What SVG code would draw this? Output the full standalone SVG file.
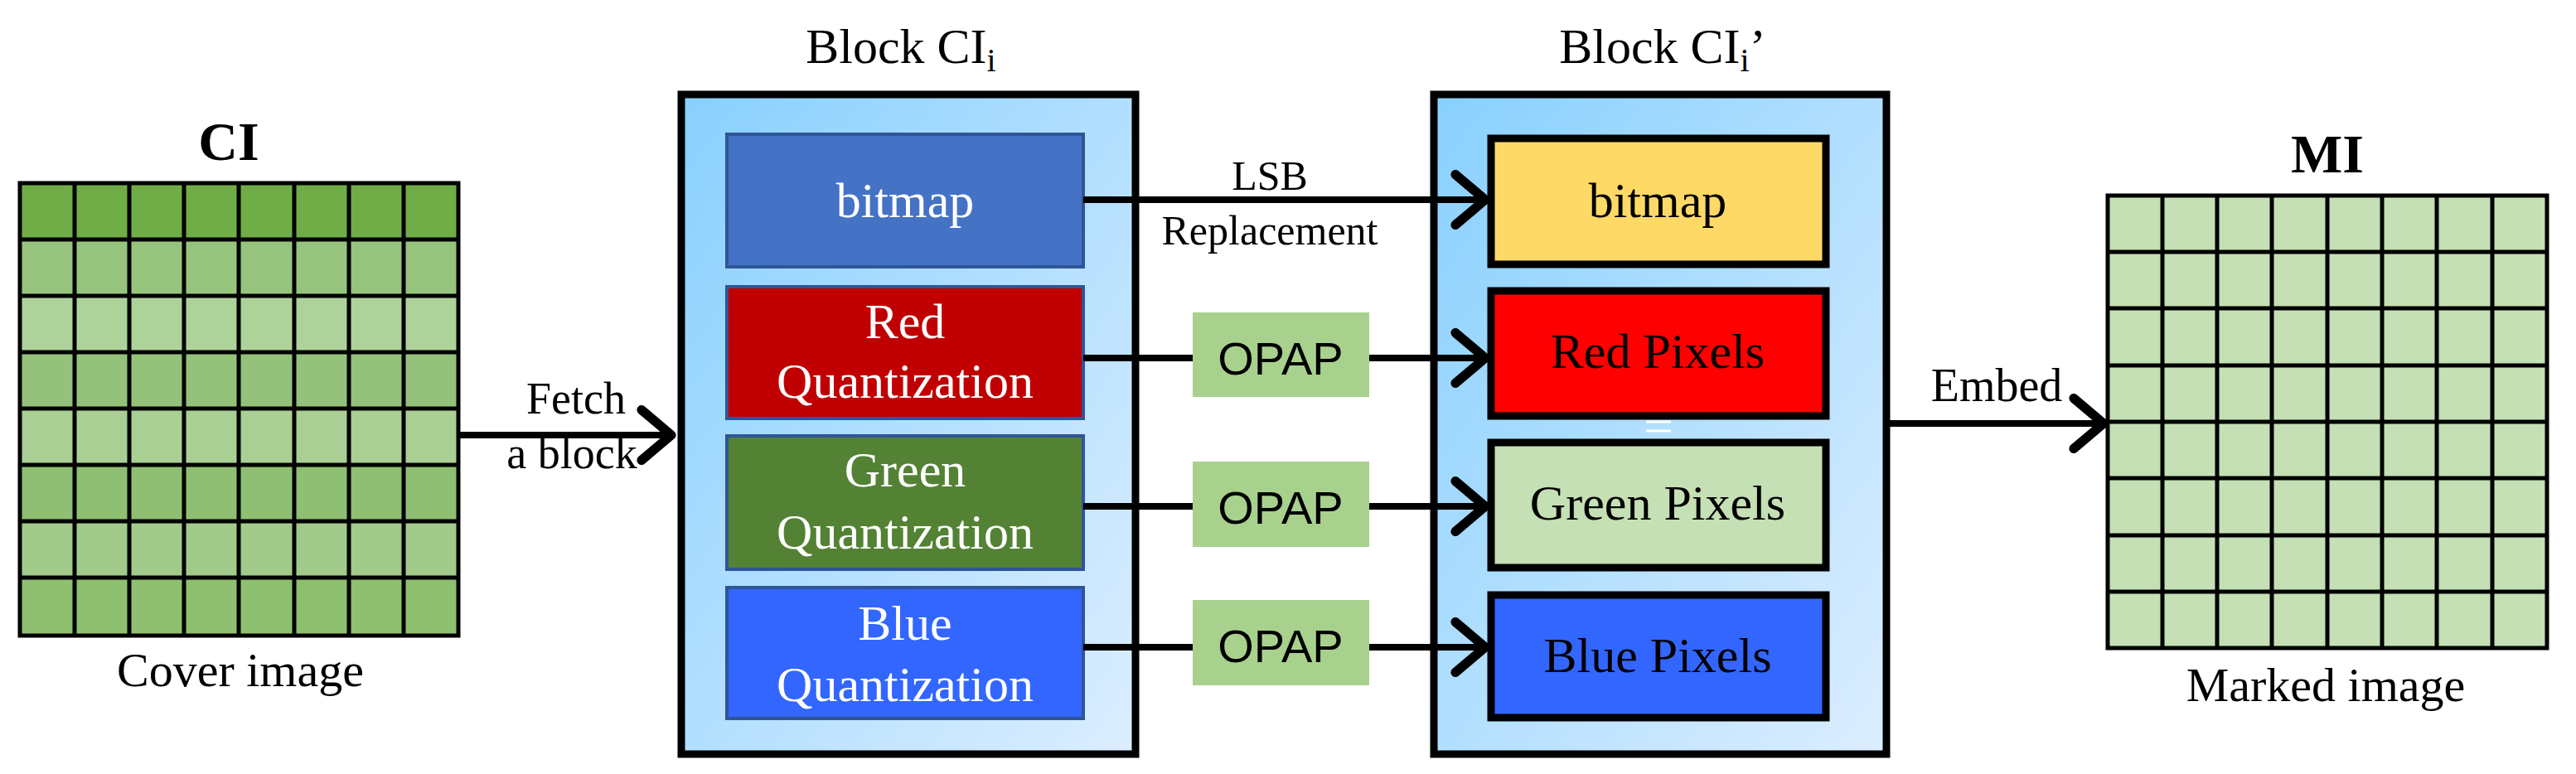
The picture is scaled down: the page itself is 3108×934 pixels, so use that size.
<svg xmlns="http://www.w3.org/2000/svg" width="3108" height="934" viewBox="0 0 3108 934">
<style>
.t{font-family:"Liberation Serif","Times New Roman",serif;text-anchor:middle}
.s{font-family:"Liberation Sans",Arial,sans-serif;text-anchor:middle}
.grid{stroke:#000;stroke-width:5;fill:none}
.blk{stroke:#000;stroke-width:9;fill:url(#bg)}
.lb{stroke:#2F5597;stroke-width:4}
.rb{stroke:#000;stroke-width:9}
.op{fill:#A9D18E}
.con{stroke:#000;stroke-width:8;fill:none}
</style>
<defs>
<linearGradient id="bg" x1="0" y1="0" x2="1" y2="1">
<stop offset="0" stop-color="#88D0FE"/><stop offset="1" stop-color="#DCEEFF"/>
</linearGradient>
<marker id="ah" markerWidth="8" markerHeight="10" refX="6" refY="5" orient="auto" markerUnits="strokeWidth">
<path d="M1.5,1.2 L6,5 L1.5,8.8" fill="none" stroke="#000" stroke-width="1.4" stroke-linecap="round" stroke-linejoin="round"/>
</marker>
</defs>
<rect width="3108" height="934" fill="#fff"/>

<g id="CI">
<text class="t" x="276" y="193" font-size="66" font-weight="bold">CI</text>
<rect x="24" y="221" width="529" height="68" fill="#70AD47"/>
<rect x="24" y="289" width="529" height="68" fill="#97C47D"/>
<rect x="24" y="357" width="529" height="68" fill="#AED39A"/>
<rect x="24" y="425" width="529" height="68" fill="#94C27A"/>
<rect x="24" y="493" width="529" height="68" fill="#AACF95"/>
<rect x="24" y="561" width="529" height="68" fill="#8FBF72"/>
<rect x="24" y="629" width="529" height="68" fill="#A2CB8B"/>
<rect x="24" y="697" width="529" height="70" fill="#8FBF70"/>
<path class="grid" d="M24,221H553V767H24Z M90,221V767 M156,221V767 M222,221V767 M288,221V767 M355,221V767 M421,221V767 M487,221V767 M24,289H553 M24,357H553 M24,425H553 M24,493H553 M24,561H553 M24,629H553 M24,697H553"/>
<text class="t" x="290" y="828" font-size="58">Cover image</text>
</g>

<g id="BlockCIi">
<text class="t" x="1087" y="76" font-size="60">Block CI<tspan font-size="40" dy="10">i</tspan></text>
<rect class="blk" x="822" y="114" width="548" height="796"/>
</g>
<g id="bitmapL"><rect class="lb" x="877" y="162" width="430" height="160" fill="#4472C4"/><text class="t" x="1092" y="262" font-size="60" fill="#fff">bitmap</text></g>
<g id="redQ"><rect class="lb" x="877" y="346" width="430" height="159" fill="#C00000"/><text class="t" x="1092" y="408" font-size="60" fill="#fff">Red</text><text class="t" x="1092" y="480" font-size="60" fill="#fff">Quantization</text></g>
<g id="greenQ"><rect class="lb" x="877" y="526" width="430" height="161" fill="#548235"/><text class="t" x="1092" y="587" font-size="60" fill="#fff">Green</text><text class="t" x="1092" y="662" font-size="60" fill="#fff">Quantization</text></g>
<g id="blueQ"><rect class="lb" x="877" y="709" width="430" height="158" fill="#3366FF"/><text class="t" x="1092" y="772" font-size="60" fill="#fff">Blue</text><text class="t" x="1092" y="846" font-size="60" fill="#fff">Quantization</text></g>

<g id="BlockCIi2">
<text class="t" x="2006" y="76" font-size="60">Block CI<tspan font-size="40" dy="10">i</tspan><tspan dy="-10">’</tspan></text>
<rect class="blk" x="1730" y="114" width="546" height="796"/>
<path d="M1986,509H2016 M1986,520H2016" stroke="#fff" stroke-width="3"/>
</g>
<g id="bitmapR"><rect class="rb" x="1799" y="167" width="404" height="152" fill="#FFD966"/><text class="t" x="2000" y="262" font-size="60">bitmap</text></g>
<g id="redP"><rect class="rb" x="1799" y="351" width="404" height="151" fill="#FF0000"/><text class="t" x="2000" y="444" font-size="60">Red Pixels</text></g>
<g id="greenP"><rect class="rb" x="1799" y="534" width="404" height="151" fill="#C5E0B4"/><text class="t" x="2000" y="627" font-size="60">Green Pixels</text></g>
<g id="blueP"><rect class="rb" x="1799" y="718" width="404" height="148" fill="#3366FF"/><text class="t" x="2000" y="811" font-size="60">Blue Pixels</text></g>

<g id="opap1"><rect class="op" x="1439" y="377" width="213" height="102"/><text class="s" x="1545" y="452" font-size="56">OPAP</text></g>
<g id="opap2"><rect class="op" x="1439" y="557" width="213" height="103"/><text class="s" x="1545" y="632" font-size="56">OPAP</text></g>
<g id="opap3"><rect class="op" x="1439" y="724" width="213" height="103"/><text class="s" x="1545" y="799" font-size="56">OPAP</text></g>

<g id="MI">
<text class="t" x="2808" y="208" font-size="66" font-weight="bold">MI</text>
<rect x="2543" y="236" width="530" height="546" fill="#C5E0B4"/>
<path class="grid" d="M2543,236H3073V782H2543Z M2609,236V782 M2675,236V782 M2741,236V782 M2808,236V782 M2874,236V782 M2940,236V782 M3007,236V782 M2543,304H3073 M2543,372H3073 M2543,441H3073 M2543,509H3073 M2543,577H3073 M2543,646H3073 M2543,714H3073"/>
<text class="t" x="2806" y="846" font-size="58">Marked image</text>
</g>

<g id="connectors">
<path class="con" d="M553,525H810" marker-end="url(#ah)"/>
<path class="con" d="M1307,241H1792" marker-end="url(#ah)"/>
<path class="con" d="M1307,432H1439"/>
<path class="con" d="M1652,432H1792" marker-end="url(#ah)"/>
<path class="con" d="M1307,611H1439"/>
<path class="con" d="M1652,611H1792" marker-end="url(#ah)"/>
<path class="con" d="M1307,781H1439"/>
<path class="con" d="M1652,781H1792" marker-end="url(#ah)"/>
<path class="con" d="M2276,511H2538" marker-end="url(#ah)"/>
<text class="t" x="695" y="499" font-size="54">Fetch</text>
<text class="t" x="690" y="565" font-size="54">a block</text>
<text class="t" x="1532" y="229" font-size="50">LSB</text>
<text class="t" x="1532" y="295" font-size="50">Replacement</text>
<text class="t" x="2409" y="484" font-size="56">Embed</text>
</g>
</svg>
